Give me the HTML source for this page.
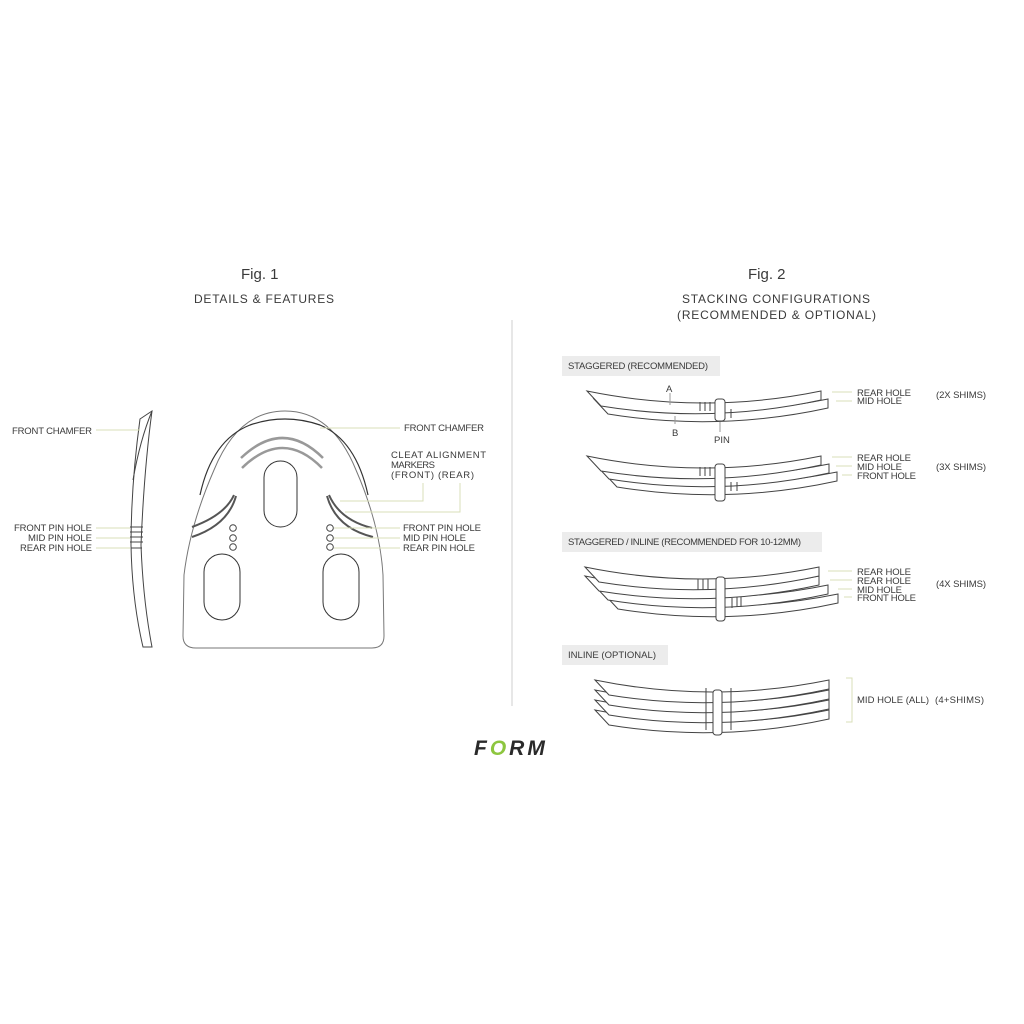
<!DOCTYPE html>
<html><head><meta charset="utf-8"><style>
html,body{margin:0;padding:0;background:#fff;}
svg{display:block;}
text{font-family:"Liberation Sans",sans-serif;fill:#3a3a3a;}
.l{font-size:9.5px;}
.g{stroke:#d9dfb8;stroke-width:1;fill:none;}
</style></head><body>
<svg width="1024" height="1024" viewBox="0 0 1024 1024" xmlns="http://www.w3.org/2000/svg">
<defs>
<path id="shim" d="M0,0 Q117,24 234,0 L234,9 Q124,33 14,15 Z" fill="#fff" stroke="#444" stroke-width="1"/>
</defs>

<!-- titles -->
<text x="241" y="279" font-size="15">Fig. 1</text>
<text x="194" y="303" font-size="12" textLength="140">DETAILS &amp; FEATURES</text>
<text x="748" y="279" font-size="15">Fig. 2</text>
<text x="682" y="303" font-size="12" textLength="188">STACKING CONFIGURATIONS</text>
<text x="677" y="319" font-size="12" textLength="199">(RECOMMENDED &amp; OPTIONAL)</text>

<line x1="512" y1="320" x2="512" y2="706" stroke="#cfcfcf" stroke-width="1"/>

<!-- side profile -->
<path d="M140,419 L152,411 Q144,470 141,545 Q143,600 152,647 L143,647 Q132,600 131,545 Q131,485 140,419 Z" fill="#fff" stroke="#444" stroke-width="1"/>
<path d="M133,480 Q140,440 152,411" fill="none" stroke="#444"/>
<path d="M130,527 L143,527 M130,532 L143,532 M130,537 L143,537 M130,542 L143,542 M131,548 L142,548" stroke="#444"/>
<line class="g" x1="96" y1="430" x2="140" y2="430"/>
<line class="g" x1="96" y1="528" x2="130" y2="528"/>
<line class="g" x1="96" y1="538" x2="130" y2="538"/>
<line class="g" x1="96" y1="548" x2="130" y2="548"/>
<text class="l" x="12" y="434" textLength="80">FRONT CHAMFER</text>
<text class="l" x="14" y="531" textLength="78">FRONT PIN HOLE</text>
<text class="l" x="28" y="541" textLength="64">MID PIN HOLE</text>
<text class="l" x="20" y="551" textLength="72">REAR PIN HOLE</text>

<!-- cleat -->
<path d="M196,648 L372,648 Q384,648 384,636 L383,575 Q380,525 356,470 Q332,411 285,411 Q238,411 214,470 Q190,525 184,575 L183,636 Q183,648 196,648 Z" fill="#fff" stroke="#777" stroke-width="1"/>
<path d="M200,495 Q212,440 250,425 Q285,413 320,425 Q356,440 368,495" fill="none" stroke="#333" stroke-width="1.2"/>
<path d="M241,458 Q283,418 323,458" fill="none" stroke="#999" stroke-width="2.5"/>
<path d="M242,468 Q283,428 322,468" fill="none" stroke="#999" stroke-width="2.5"/>
<path d="M234,495 Q225,515 192,527" fill="none" stroke="#555" stroke-width="2"/>
<path d="M236,496 Q228,525 192,537" fill="none" stroke="#555" stroke-width="2"/>
<path d="M329,495 Q340,520 372,528" fill="none" stroke="#555" stroke-width="2"/>
<path d="M327,496 Q336,528 373,537" fill="none" stroke="#555" stroke-width="2"/>
<rect x="264" y="461" width="33" height="66" rx="16.5" fill="none" stroke="#333"/>
<rect x="204" y="554" width="36" height="66" rx="18" fill="none" stroke="#333"/>
<rect x="323" y="554" width="36" height="66" rx="18" fill="none" stroke="#333"/>
<circle cx="233" cy="528" r="3.3" fill="none" stroke="#444"/>
<circle cx="233" cy="538" r="3.3" fill="none" stroke="#444"/>
<circle cx="233" cy="547" r="3.3" fill="none" stroke="#444"/>
<circle cx="330" cy="528" r="3.3" fill="none" stroke="#444"/>
<circle cx="330" cy="538" r="3.3" fill="none" stroke="#444"/>
<circle cx="330" cy="547" r="3.3" fill="none" stroke="#444"/>
<polyline class="g" points="320,428 400,428"/>
<polyline class="g" points="340,501 423,501 423,483"/>
<polyline class="g" points="345,512 460,512 460,483"/>
<line class="g" x1="334" y1="528" x2="400" y2="528"/>
<line class="g" x1="334" y1="538" x2="400" y2="538"/>
<line class="g" x1="334" y1="548" x2="400" y2="548"/>
<text class="l" x="404" y="431" textLength="80">FRONT CHAMFER</text>
<text class="l" x="391" y="458" textLength="95">CLEAT ALIGNMENT</text>
<text class="l" x="391" y="468" textLength="44">MARKERS</text>
<text class="l" x="391" y="478" textLength="83">(FRONT) (REAR)</text>
<text class="l" x="403" y="531" textLength="78">FRONT PIN HOLE</text>
<text class="l" x="403" y="541" textLength="63">MID PIN HOLE</text>
<text class="l" x="403" y="551" textLength="72">REAR PIN HOLE</text>

<!-- stack 1 -->
<rect x="562" y="356" width="158" height="20" fill="#ececec"/>
<text class="l" x="568" y="369" textLength="140">STAGGERED (RECOMMENDED)</text>
<use href="#shim" x="594" y="399"/>
<use href="#shim" x="587" y="391"/>
<path d="M700,402 V411 M705,402 V411 M710,402 V411 M719,411 V419 M725,410 V419 M731,409 V418" stroke="#444"/>
<rect x="715" y="399" width="10" height="22" rx="3" fill="#fff" stroke="#444"/>
<line x1="670" y1="393" x2="670" y2="405" stroke="#999"/>
<line x1="675" y1="416" x2="675" y2="424" stroke="#999"/>
<line x1="720" y1="422" x2="720" y2="432" stroke="#999"/>
<text class="l" x="666" y="392">A</text>
<text class="l" x="672" y="436">B</text>
<text class="l" x="714" y="443">PIN</text>
<line class="g" x1="832" y1="392" x2="852" y2="392"/>
<line class="g" x1="836" y1="401" x2="852" y2="401"/>
<text class="l" x="857" y="396" textLength="54">REAR HOLE</text>
<text class="l" x="857" y="404" textLength="45">MID HOLE</text>
<text class="l" x="936" y="398" textLength="50">(2X SHIMS)</text>

<!-- stack 2 -->
<use href="#shim" x="603" y="472"/>
<use href="#shim" x="595" y="464"/>
<use href="#shim" x="587" y="456"/>
<path d="M700,467 V476 M705,467 V476 M710,467 V476 M725,483 V492 M731,482 V491 M737,482 V491" stroke="#444"/>
<rect x="715" y="464" width="10" height="37" rx="3" fill="#fff" stroke="#444"/>
<line class="g" x1="832" y1="457" x2="852" y2="457"/>
<line class="g" x1="836" y1="466" x2="852" y2="466"/>
<line class="g" x1="842" y1="475" x2="852" y2="475"/>
<text class="l" x="857" y="461" textLength="54">REAR HOLE</text>
<text class="l" x="857" y="470" textLength="45">MID HOLE</text>
<text class="l" x="857" y="479" textLength="59">FRONT HOLE</text>
<text class="l" x="936" y="470" textLength="50">(3X SHIMS)</text>

<!-- stack 3 -->
<rect x="562" y="532" width="260" height="20" fill="#ececec"/>
<text class="l" x="568" y="545" textLength="233">STAGGERED  / INLINE (RECOMMENDED FOR 10-12MM)</text>
<use href="#shim" x="604" y="594"/>
<use href="#shim" x="594" y="585"/>
<use href="#shim" x="585" y="576"/>
<use href="#shim" x="585" y="567"/>
<path d="M698,579 V590 M703,579 V590 M708,579 V590 M732,598 V608 M737,597 V607 M741,597 V607" stroke="#444"/>
<rect x="716" y="577" width="9" height="44" rx="3" fill="#fff" stroke="#444"/>
<line class="g" x1="828" y1="571" x2="852" y2="571"/>
<line class="g" x1="830" y1="580" x2="852" y2="580"/>
<line class="g" x1="838" y1="589" x2="852" y2="589"/>
<line class="g" x1="844" y1="597" x2="852" y2="597"/>
<text class="l" x="857" y="575" textLength="54">REAR HOLE</text>
<text class="l" x="857" y="584" textLength="54">REAR HOLE</text>
<text class="l" x="857" y="593" textLength="45">MID HOLE</text>
<text class="l" x="857" y="601" textLength="59">FRONT HOLE</text>
<text class="l" x="936" y="587" textLength="50">(4X SHIMS)</text>

<!-- stack 4 -->
<rect x="562" y="645" width="106" height="20" fill="#ececec"/>
<text class="l" x="568" y="658" textLength="88">INLINE (OPTIONAL)</text>
<use href="#shim" x="595" y="710"/>
<use href="#shim" x="595" y="700"/>
<use href="#shim" x="595" y="690"/>
<use href="#shim" x="595" y="680"/>
<path d="M706,688 V730 M731,688 V730" stroke="#444"/>
<rect x="713" y="690" width="9" height="45" rx="3" fill="#fff" stroke="#444"/>
<polyline class="g" points="846,678 852,678 852,722 846,722"/>
<text class="l" x="857" y="703" textLength="72">MID HOLE (ALL)</text>
<text class="l" x="935" y="703" textLength="49">(4+SHIMS)</text>

<!-- logo -->
<text x="474" y="755" font-size="21" font-weight="bold" font-style="italic" letter-spacing="3" style="fill:#2a2a2a">F<tspan style="fill:#8dc63f">O</tspan>RM</text>
</svg>
</body></html>
